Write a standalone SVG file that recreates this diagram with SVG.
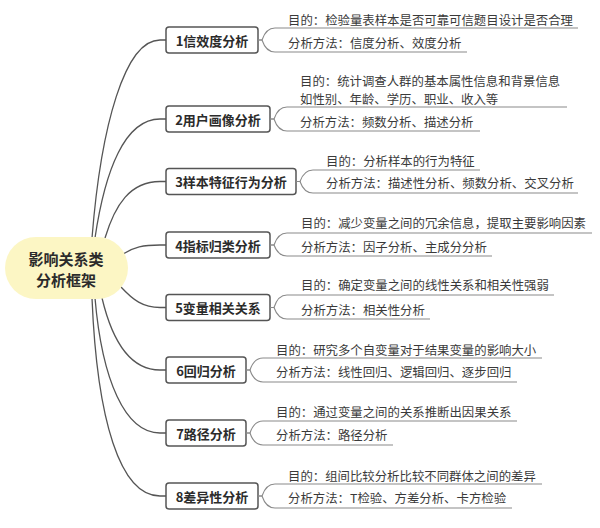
<svg xmlns="http://www.w3.org/2000/svg" width="600" height="528" viewBox="0 0 600 528">
<style>
.bg{fill:#ffffff}
.conn path{fill:none;stroke:#555555;stroke-width:1.3}
.leafline path{fill:none;stroke:#8a8a8a;stroke-width:1.1}
.box{fill:#ffffff;stroke:#555555;stroke-width:1.5}
.ntxt{font-family:"Noto Sans CJK SC","Liberation Sans",sans-serif;font-size:13px;font-weight:bold;fill:#2b2b2b;text-anchor:middle;dominant-baseline:central}
.ltxt{font-family:"Noto Sans CJK SC","Liberation Sans",sans-serif;font-size:12.4px;fill:#3a3a3a;dominant-baseline:central}
.ctxt{font-family:"Noto Sans CJK SC","Liberation Sans",sans-serif;font-size:15px;font-weight:bold;fill:#2b2b2b;text-anchor:middle;dominant-baseline:central}
</style>
<rect class="bg" x="0" y="0" width="600" height="528"/>
<g id="connectors" class="conn">
<path d="M92 238 C101 125 125 40 160 40 L166 40"/>
<path d="M95 238 C105 170 125 119 160 119 L166 119"/>
<path d="M105 238 C115 205 130 181.5 160 181.5 L166 181.5"/>
<path d="M123 254 C134 247 143 245 160 245 L166 245"/>
<path d="M121 287 C133 300 143 307.5 160 307.5 L166 307.5"/>
<path d="M102 298 C112 340 130 370 160 370 L166 370"/>
<path d="M95 298 C102 380 125 433 160 433 L166 433"/>
<path d="M92 298 C97 420 120 496 160 496 L166 496"/>
</g>
<g id="center">
<rect x="5" y="237" width="123" height="62" rx="31" ry="31" fill="#fcf6c4"/>
<text class="ctxt" x="66" y="258">影响关系类</text>
<text class="ctxt" x="66" y="279">分析框架</text>
</g>
<g id="node1">
<rect class="box" x="166" y="27" width="92" height="26" rx="3"/>
<text class="ntxt" x="212" y="40">1信效度分析</text>
<g class="leafline"><path d="M258 40 L262 40 Q266 28 275 28 L578 28"/><path d="M258 40 L262 40 Q266 52 275 52 L467 52"/></g>
<text class="ltxt" x="288" y="20">目的：检验量表样本是否可靠可信题目设计是否合理</text>
<text class="ltxt" x="288" y="43">分析方法：信度分析、效度分析</text>
</g>
<g id="node2">
<rect class="box" x="166" y="106" width="104" height="26" rx="3"/>
<text class="ntxt" x="218" y="119">2用户画像分析</text>
<g class="leafline"><path d="M270 119 L274 119 Q278 107 287 107 L567 107"/><path d="M270 119 L274 119 Q278 131 287 131 L480 131"/></g>
<text class="ltxt"><tspan x="300" y="80.5">目的：统计调查人群的基本属性信息和背景信息</tspan><tspan x="300" y="99">如性别、年龄、学历、职业、收入等</tspan></text>
<text class="ltxt" x="300" y="122">分析方法：频数分析、描述分析</text>
</g>
<g id="node3">
<rect class="box" x="166" y="168.5" width="130" height="26" rx="3"/>
<text class="ntxt" x="231" y="181.5">3样本特征行为分析</text>
<g class="leafline"><path d="M296 181.5 L300 181.5 Q304 170 313 170 L480 170"/><path d="M296 181.5 L300 181.5 Q304 193 313 193 L578 193"/></g>
<text class="ltxt" x="326" y="161">目的：分析样本的行为特征</text>
<text class="ltxt" x="326" y="183">分析方法：描述性分析、频数分析、交叉分析</text>
</g>
<g id="node4">
<rect class="box" x="166" y="232" width="104" height="26" rx="3"/>
<text class="ntxt" x="218" y="245">4指标归类分析</text>
<g class="leafline"><path d="M270 245 L274 245 Q278 233 287 233 L592 233"/><path d="M270 245 L274 245 Q278 256 287 256 L492 256"/></g>
<text class="ltxt" x="301" y="223">目的：减少变量之间的冗余信息，提取主要影响因素</text>
<text class="ltxt" x="301" y="247">分析方法：因子分析、主成分分析</text>
</g>
<g id="node5">
<rect class="box" x="166" y="294.5" width="104" height="26" rx="3"/>
<text class="ntxt" x="218" y="307.5">5变量相关关系</text>
<g class="leafline"><path d="M270 307.5 L274 307.5 Q278 295 287 295 L554 295"/><path d="M270 307.5 L274 307.5 Q278 319 287 319 L430 319"/></g>
<text class="ltxt" x="301" y="285">目的：确定变量之间的线性关系和相关性强弱</text>
<text class="ltxt" x="301" y="310">分析方法：相关性分析</text>
</g>
<g id="node6">
<rect class="box" x="166" y="357" width="80" height="26" rx="3"/>
<text class="ntxt" x="206" y="370">6回归分析</text>
<g class="leafline"><path d="M246 370 L250 370 Q254 358 263 358 L542 358"/><path d="M246 370 L250 370 Q254 382 263 382 L517 382"/></g>
<text class="ltxt" x="276" y="350">目的：研究多个自变量对于结果变量的影响大小</text>
<text class="ltxt" x="276" y="372">分析方法：线性回归、逻辑回归、逐步回归</text>
</g>
<g id="node7">
<rect class="box" x="166" y="420" width="80" height="26" rx="3"/>
<text class="ntxt" x="206" y="433">7路径分析</text>
<g class="leafline"><path d="M246 433 L250 433 Q254 421 263 421 L517 421"/><path d="M246 433 L250 433 Q254 445 263 445 L393 445"/></g>
<text class="ltxt" x="276" y="412">目的：通过变量之间的关系推断出因果关系</text>
<text class="ltxt" x="276" y="435">分析方法：路径分析</text>
</g>
<g id="node8">
<rect class="box" x="166" y="483" width="92" height="26" rx="3"/>
<text class="ntxt" x="212" y="496">8差异性分析</text>
<g class="leafline"><path d="M258 496 L262 496 Q266 484 275 484 L542 484"/><path d="M258 496 L262 496 Q266 508 275 508 L512 508"/></g>
<text class="ltxt" x="288" y="476">目的：组间比较分析比较不同群体之间的差异</text>
<text class="ltxt" x="288" y="498">分析方法：T检验、方差分析、卡方检验</text>
</g>
</svg>
